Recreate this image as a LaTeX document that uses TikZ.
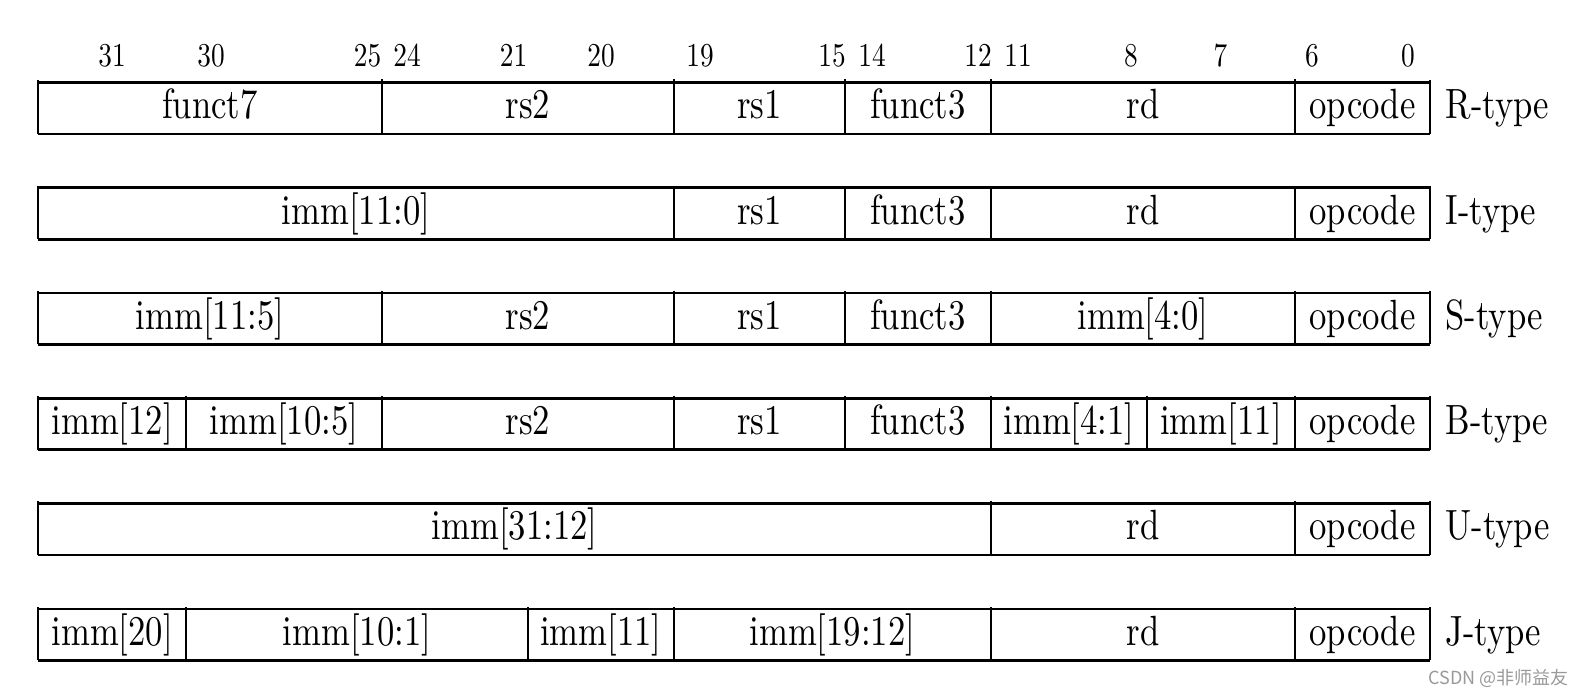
\documentclass[tikz,border=0pt]{standalone}
\usepackage{fontspec}
\setmainfont{lmroman10-regular}[Extension=.otf]
\newfontfamily\cjkfont{Noto Sans CJK SC}
\usepackage{graphicx}

\newcommand{\fld}[1]{\scalebox{1}[1.22]{#1}}

\tikzset{every picture/.style={line width=0.75pt}}
\tikzset{
  hline/.style={line width=2.2pt},
  vline/.style={line width=1.5pt},
  fieldtext/.style={anchor=base,inner sep=0pt,font=\fontsize{26}{30}\selectfont},
  typetext/.style={anchor=base west,inner sep=0pt,font=\fontsize{26}{30}\selectfont},
  bittext/.style={anchor=base,inner sep=0pt,font=\fontsize{20.5}{24}\selectfont},
}

\begin{document}
\begin{tikzpicture}[x=0.75pt,y=0.75pt,yscale=-1,xscale=1]
\path (0,0) rectangle (1579,700); %set diagram size

% Bit numbers
\node[bittext] (b31) at (112,66.5) {\fld{31}};
\node[bittext] (b30) at (211,66.5) {\fld{30}};
\node[bittext] (b25) at (367.5,66.5) {\fld{25}};
\node[bittext] (b24) at (407,66.5) {\fld{24}};
\node[bittext] (b21) at (513.5,66.5) {\fld{21}};
\node[bittext] (b20) at (601,66.5) {\fld{20}};
\node[bittext] (b19) at (700,66.5) {\fld{19}};
\node[bittext] (b15) at (832,66.5) {\fld{15}};
\node[bittext] (b14) at (872,66.5) {\fld{14}};
\node[bittext] (b12) at (978,66.5) {\fld{12}};
\node[bittext] (b11) at (1018,66.5) {\fld{11}};
\node[bittext] (b8) at (1131,66.5) {\fld{8}};
\node[bittext] (b7) at (1220.5,66.5) {\fld{7}};
\node[bittext] (b6) at (1312,66.5) {\fld{6}};
\node[bittext] (b0) at (1408,66.5) {\fld{0}};

%R-type row
\draw[hline] (38,82.6) -- (1430,82.6) (38,134) -- (1430,134) ;
\draw[vline] (38,80) -- (38,134) (381.7,79) -- (381.7,134) (673.7,79) -- (673.7,134) (844.9,79) -- (844.9,134) (990.9,79) -- (990.9,134) (1295,79) -- (1295,134) (1430,80) -- (1430,134) ;
\node[fieldtext] (rf7) at (210,118.8) {\fld{funct7}};
\node[fieldtext] (rrs2) at (527.7,118.8) {\fld{rs2}};
\node[fieldtext] (rrs1) at (759.3,118.8) {\fld{rs1}};
\node[fieldtext] (rf3) at (917.9,118.8) {\fld{funct3}};
\node[fieldtext] (rrd) at (1143,118.8) {\fld{rd}};
\node[fieldtext] (rop) at (1362.5,118.8) {\fld{opcode}};
\node[typetext] (rtype) at (1445,118.8) {\fld{R-type}};

%I-type row
\draw[hline] (38,187.8) -- (1430,187.8) (38,239.2) -- (1430,239.2) ;
\draw[vline] (38,186) -- (38,239.2) (673.7,186) -- (673.7,239.2) (844.9,186) -- (844.9,239.2) (990.9,186) -- (990.9,239.2) (1295,186) -- (1295,239.2) (1430,186) -- (1430,239.2) ;
\node[fieldtext] (iimm) at (355.9,224) {\fld{imm[11:0]}};
\node[fieldtext] (irs1) at (759.3,224) {\fld{rs1}};
\node[fieldtext] (if3) at (917.9,224) {\fld{funct3}};
\node[fieldtext] (ird) at (1143,224) {\fld{rd}};
\node[fieldtext] (iop) at (1362.5,224) {\fld{opcode}};
\node[typetext] (itype) at (1445,224) {\fld{I-type}};

%S-type row
\draw[hline] (38,293) -- (1430,293) (38,344.4) -- (1430,344.4) ;
\draw[vline] (38,291) -- (38,344.4) (381.7,291) -- (381.7,344.4) (673.7,291) -- (673.7,344.4) (844.9,291) -- (844.9,344.4) (990.9,291) -- (990.9,344.4) (1295,291) -- (1295,344.4) (1430,291) -- (1430,344.4) ;
\node[fieldtext] (simm1) at (210,329.2) {\fld{imm[11:5]}};
\node[fieldtext] (srs2) at (527.7,329.2) {\fld{rs2}};
\node[fieldtext] (srs1) at (759.3,329.2) {\fld{rs1}};
\node[fieldtext] (sf3) at (917.9,329.2) {\fld{funct3}};
\node[fieldtext] (simm2) at (1143,329.2) {\fld{imm[4:0]}};
\node[fieldtext] (sop) at (1362.5,329.2) {\fld{opcode}};
\node[typetext] (stype) at (1445,329.2) {\fld{S-type}};

%B-type row
\draw[hline] (38,398.4) -- (1430,398.4) (38,449.8) -- (1430,449.8) ;
\draw[vline] (38,396) -- (38,449.8) (186.3,396) -- (186.3,449.8) (381.7,396) -- (381.7,449.8) (673.7,396) -- (673.7,449.8) (844.9,396) -- (844.9,449.8) (990.9,396) -- (990.9,449.8) (1147,396) -- (1147,449.8) (1295,396) -- (1295,449.8) (1430,396) -- (1430,449.8) ;
\node[fieldtext] (bimm1) at (112.2,434.6) {\fld{imm[12]}};
\node[fieldtext] (bimm2) at (284,434.6) {\fld{imm[10:5]}};
\node[fieldtext] (brs2) at (527.7,434.6) {\fld{rs2}};
\node[fieldtext] (brs1) at (759.3,434.6) {\fld{rs1}};
\node[fieldtext] (bf3) at (917.9,434.6) {\fld{funct3}};
\node[fieldtext] (bimm3) at (1069,434.6) {\fld{imm[4:1]}};
\node[fieldtext] (bimm4) at (1221,434.6) {\fld{imm[11]}};
\node[fieldtext] (bop) at (1362.5,434.6) {\fld{opcode}};
\node[typetext] (btype) at (1445,434.6) {\fld{B-type}};

%U-type row
\draw[hline] (38,503.6) -- (1430,503.6) (38,555) -- (1430,555) ;
\draw[vline] (38,501) -- (38,555) (990.9,501) -- (990.9,555) (1295,501) -- (1295,555) (1430,501) -- (1430,555) ;
\node[fieldtext] (uimm) at (514.5,539.8) {\fld{imm[31:12]}};
\node[fieldtext] (urd) at (1143,539.8) {\fld{rd}};
\node[fieldtext] (uop) at (1362.5,539.8) {\fld{opcode}};
\node[typetext] (utype) at (1445,539.8) {\fld{U-type}};

%J-type row
\draw[hline] (38,609) -- (1430,609) (38,660.4) -- (1430,660.4) ;
\draw[vline] (38,607) -- (38,660.4) (186.3,607) -- (186.3,660.4) (527.7,607) -- (527.7,660.4) (673.7,607) -- (673.7,660.4) (990.9,607) -- (990.9,660.4) (1295,607) -- (1295,660.4) (1430,607) -- (1430,660.4) ;
\node[fieldtext] (jimm1) at (112.2,645.2) {\fld{imm[20]}};
\node[fieldtext] (jimm2) at (357,645.2) {\fld{imm[10:1]}};
\node[fieldtext] (jimm3) at (600.7,645.2) {\fld{imm[11]}};
\node[fieldtext] (jimm4) at (832.3,645.2) {\fld{imm[19:12]}};
\node[fieldtext] (jrd) at (1143,645.2) {\fld{rd}};
\node[fieldtext] (jop) at (1362.5,645.2) {\fld{opcode}};
\node[typetext] (jtype) at (1445,645.2) {\fld{J-type}};

% Text Node
\node[anchor=base west,inner sep=0pt,text=black!40,font=\cjkfont\fontsize{13.5}{16}\selectfont] (mark) at (1428,684) {CSDN @非师益友};

\end{tikzpicture}
\end{document}
